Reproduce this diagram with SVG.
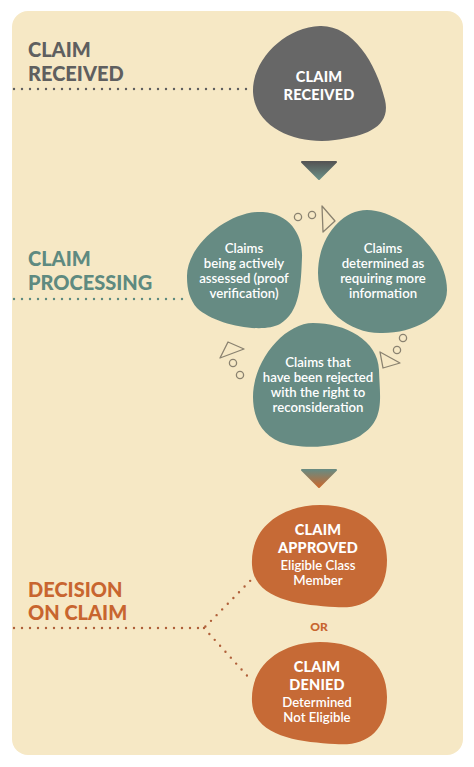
<svg xmlns="http://www.w3.org/2000/svg" width="474" height="767" viewBox="0 0 474 767">
<defs>
<style>
.lbl{font-family:Lato,"Open Sans",sans-serif;font-weight:900;font-size:20px}
.ntb{font-family:Lato,"Open Sans",sans-serif;font-weight:900;font-size:14.5px;fill:#fff;text-anchor:middle;letter-spacing:0.2px}
.nt{font-family:Lato,"Open Sans",sans-serif;font-weight:600;font-size:13.2px;fill:#fff;text-anchor:middle}
.dot{fill:none;stroke-width:2.4;stroke-linecap:round;stroke-dasharray:0 8}
.deco{fill:none;stroke:#8a8270;stroke-width:1.3;stroke-linejoin:round}
</style>
<linearGradient id="g1" x1="0" y1="0" x2="0" y2="1">
<stop offset="0" stop-color="#555"/><stop offset="1" stop-color="#6a8f86"/>
</linearGradient>
<linearGradient id="g2" x1="0" y1="0" x2="0" y2="1">
<stop offset="0" stop-color="#6a8a80"/><stop offset="1" stop-color="#c8692f"/>
</linearGradient>
</defs>
<rect x="0" y="0" width="474" height="767" fill="#fff"/>
<rect x="12" y="11" width="451" height="744" rx="16" fill="#f6e8c5"/>

<g id="connectors">
<path class="dot" d="M14,89 H250" stroke="#5f5f5f"/>
<path class="dot" d="M14,299 H188" stroke="#5e8a80"/>
<path class="dot" d="M14,628 H204 L251,580 M204,628 L251,680" stroke="#b0603a"/>
<path d="M302,162 L336,162 L319,179 Z" fill="url(#g1)" stroke="url(#g1)" stroke-width="2" stroke-linejoin="round"/>
<path d="M302,470 L336,470 L319,487 Z" fill="url(#g2)" stroke="url(#g2)" stroke-width="2" stroke-linejoin="round"/>
</g>

<g id="labels">
<text class="lbl" x="28" y="57" fill="#5f5f5f">CLAIM</text>
<text class="lbl" x="28" y="81" fill="#5f5f5f">RECEIVED</text>
<text class="lbl" x="28" y="266" fill="#5e8a80">CLAIM</text>
<text class="lbl" x="28" y="290" fill="#5e8a80">PROCESSING</text>
<text class="lbl" x="28" y="597" fill="#c8652f">DECISION</text>
<text class="lbl" x="28" y="620" fill="#c8652f">ON CLAIM</text>
</g>

<g id="node-received">
<path d="M253,92 C252,60 285,27 320,26 C352,25 376,62 385,100 C391,126 368,136 335,140 C300,145 255,130 253,92 Z" fill="#676767"/>
<text class="ntb" x="319" y="82">CLAIM</text>
<text class="ntb" x="319" y="100">RECEIVED</text>
</g>

<g id="node-assessed">
<path d="M187,277 C186,245 230,210 263,212 C290,214 303,235 302,257 C301,285 300,312 280,324 C262,334 215,325 197,308 C190,300 187,290 187,277 Z" fill="#668b83"/>
<text class="nt" x="244" y="253">Claims</text>
<text class="nt" x="244" y="268">being actively</text>
<text class="nt" x="244" y="283">assessed (proof</text>
<text class="nt" x="244" y="298">verification)</text>
</g>

<g id="node-more-info">
<path d="M318,273 C318,240 340,210 367,210 C400,210 447,250 447,290 C447,318 410,334 380,333 C350,333 318,310 318,273 Z" fill="#668b83"/>
<text class="nt" x="383" y="253">Claims</text>
<text class="nt" x="383" y="268">determined as</text>
<text class="nt" x="383" y="283">requiring more</text>
<text class="nt" x="383" y="298">information</text>
</g>

<g id="node-rejected">
<path d="M253,397 C253,360 285,323 313,323 C345,323 378,340 379,370 C380,400 385,420 360,436 C340,448 300,450 280,442 C260,434 253,415 253,397 Z" fill="#668b83"/>
<text class="nt" x="318" y="367">Claims that</text>
<text class="nt" x="318" y="382">have been rejected</text>
<text class="nt" x="318" y="397">with the right to</text>
<text class="nt" x="318" y="412">reconsideration</text>
</g>

<g id="decorations">
<circle class="deco" cx="298" cy="217" r="3.6"/>
<circle class="deco" cx="312" cy="215" r="3.6"/>
<path class="deco" d="M322,206 L335,221 L323,232 Z"/>
<path class="deco" d="M228,342 L244,349 L220,358 Z"/>
<circle class="deco" cx="233" cy="363" r="3.6"/>
<circle class="deco" cx="240" cy="375" r="3.6"/>
<circle class="deco" cx="403" cy="338" r="3.6"/>
<circle class="deco" cx="397" cy="350" r="3.6"/>
<path class="deco" d="M380,352 L400,363 L383,368 Z"/>
</g>

<g id="node-approved">
<path d="M252,565 C250,525 285,505 320,505 C360,505 387,525 387,560 C387,595 365,610 335,607 C300,605 254,600 252,565 Z" fill="#c66a36"/>
<text class="ntb" x="318" y="535">CLAIM</text>
<text class="ntb" x="318" y="553">APPROVED</text>
<text class="nt" x="318" y="570">Eligible Class</text>
<text class="nt" x="318" y="585">Member</text>
</g>

<text x="319" y="631" font-family="Lato,'Open Sans',sans-serif" font-weight="900" font-size="12" fill="#c8652f" text-anchor="middle">OR</text>

<g id="node-denied">
<path d="M252,702 C250,662 285,642 320,642 C360,642 387,662 387,697 C387,732 365,747 335,744 C300,742 254,737 252,702 Z" fill="#c66a36"/>
<text class="ntb" x="317" y="672">CLAIM</text>
<text class="ntb" x="317" y="690">DENIED</text>
<text class="nt" x="317" y="707">Determined</text>
<text class="nt" x="317" y="722">Not Eligible</text>
</g>
</svg>
